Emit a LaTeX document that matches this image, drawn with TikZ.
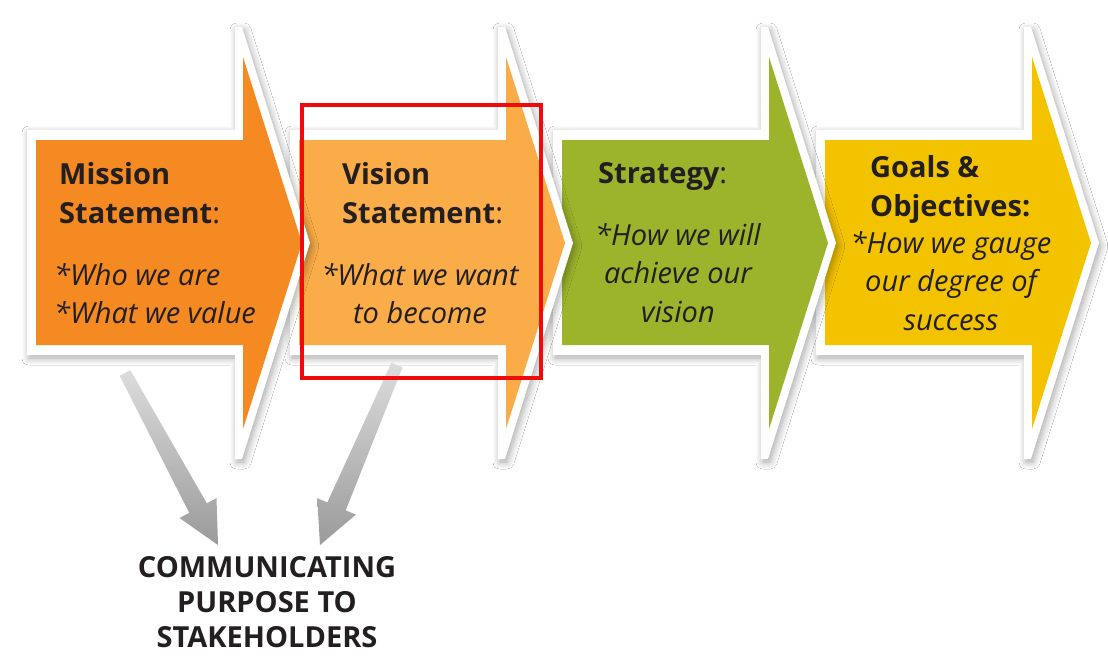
\documentclass[tikz,border=0pt]{standalone}
\usepackage{fontspec}
\setmainfont{Open Sans}
\usepackage{tikz}
\usetikzlibrary{calc,shadows.blur}
\definecolor{MOrange}{HTML}{F48A21}
\definecolor{VOrange}{HTML}{F9AC48}
\definecolor{SGreen}{HTML}{9CB42B}
\definecolor{GYellow}{HTML}{F3C300}
\definecolor{BoxRed}{HTML}{F00A0A}
\definecolor{TInk}{HTML}{231F20}
\definecolor{ALight}{HTML}{DCDCDC}
\definecolor{ADark}{HTML}{9A9A9A}

\begin{document}
\begin{tikzpicture}[x=1pt,y=-1pt,
  hd/.style={font=\fontsize{29}{39}\selectfont\bfseries,text=TInk,
    align=left,anchor=north west,inner sep=0pt},
  bd/.style={font=\fontsize{29}{38.5}\selectfont\itshape,text=TInk,
    align=center,anchor=north,inner sep=0pt},
  rim/.style={fill=white,blur shadow={shadow xshift=2pt,shadow yshift=-3pt,
    shadow blur radius=7pt,shadow blur steps=10,shadow opacity=35}},
  ga/.style={top color=ALight,bottom color=ADark,draw=none}
]
  \useasboundingbox (0,0) rectangle (1108,659);
  \fill[white] (0,0) rectangle (1108,659);
  % block arrows, right to left so each tip lies on the next body
  \foreach \x/\c in {825/GYellow,562/SGreen,299/VOrange,36/MOrange}{
    \path[rim] (\x-9,130) -- (\x+199,130) -- (\x+199,27) -- (\x+206,27)
      -- (\x+274,243) -- (\x+206,459) -- (\x+199,459) -- (\x+199,355)
      -- (\x-9,355) -- cycle;
    \fill[\c] (\x,140) -- (\x+207,140) -- (\x+207,57) -- (\x+266,243)
      -- (\x+207,429) -- (\x+207,345) -- (\x,345) -- cycle;
  }
  \node[hd] (mission) at (59,162) {Mission\\Statement{\mdseries:}};
  \node[bd,align=left,anchor=north west] (missionTxt) at (54,263)
    {*Who we are\\*What we value};
  \node[hd] (vision) at (342,162) {Vision\\Statement{\mdseries:}};
  \node[bd] (visionTxt) at (420,263) {*What we want\\to become};
  \node[hd] (strategy) at (598,162) {Strategy{\mdseries:}};
  \node[bd] (strategyTxt) at (678,223) {*How we will\\achieve our\\vision};
  \node[hd] (goals) at (870,155) {Goals \&\\Objectives:};
  \node[bd] (goalsTxt) at (951,231) {*How we gauge\\our degree of\\success};
  \node[font=\fontsize{29}{35}\selectfont\bfseries,text=TInk,align=center,
    anchor=north,inner sep=0pt] (comm) at (267,556)
    {COMMUNICATING\\PURPOSE TO\\STAKEHOLDERS};
  % grey pointers down to the caption
  \coordinate (mout) at (125,373);
  \coordinate (vout) at (397,365);
  \coordinate (cin1) at (218,545);
  \coordinate (cin2) at (320,545);
  \foreach \s/\t in {mout/cin1,vout/cin2}{
    \coordinate (hb) at ($(\t)!42pt!(\s)$);
    \shade[ga] ($(\s)!6pt!90:(\t)$) -- ($(hb)!10pt!90:(\t)$)
      -- ($(hb)!21pt!90:(\t)$) -- (\t) -- ($(hb)!21pt!-90:(\t)$)
      -- ($(hb)!10pt!-90:(\t)$) -- ($(\s)!6pt!-90:(\t)$) -- cycle;
  }
  \draw[BoxRed,line width=3.5pt] (302,105) rectangle (541,378);
\end{tikzpicture}
\end{document}
